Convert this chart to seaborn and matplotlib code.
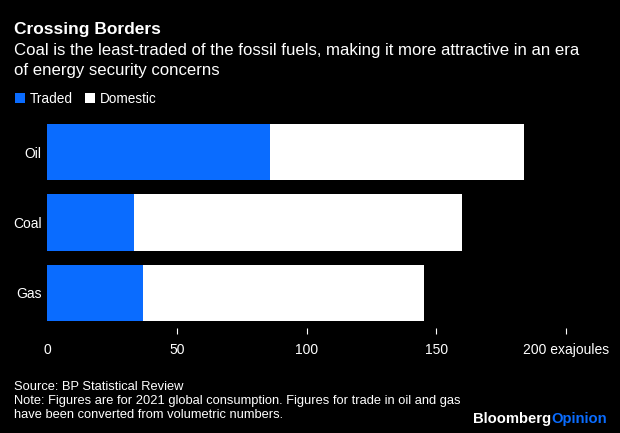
import matplotlib
matplotlib.use("Agg")
import matplotlib.pyplot as plt
from matplotlib.patches import Patch
import seaborn as sns
import pandas as pd

categories = ["Oil", "Coal", "Gas"]
traded = [85.9, 33.6, 36.9]
domestic = [97.9, 126.4, 108.3]
tick_values = [0, 50, 100, 150, 200]
tick_labels = ["0", "50", "100", "150", "200 exajoules"]

BLUE = "#0a6cff"
FONT = ["Liberation Sans", "DejaVu Sans"]

sns.set_theme(style="dark")
plt.rcParams["font.family"] = FONT

df = pd.DataFrame({"fuel": categories, "traded": traded,
                   "total": [t + d for t, d in zip(traded, domestic)]})

fig = plt.figure(figsize=(6.2, 4.33), dpi=100, facecolor="black")
W, H = 620, 433
ax = fig.add_axes([47 / W, 1 - 328 / H, (566 - 47) / W, (328 - 117) / H])
ax.set_facecolor("black")

sns.barplot(data=df, y="fuel", x="total", color="white", orient="h",
            width=0.8, ax=ax, saturation=1, linewidth=0)
sns.barplot(data=df, y="fuel", x="traded", color=BLUE, orient="h",
            width=0.8, ax=ax, saturation=1, linewidth=0)

ax.set_xlim(0, 200)
ax.set_ylim(2.5, -0.5)
ax.set_xlabel("")
ax.set_ylabel("")
ax.grid(False)
for s in ax.spines.values():
    s.set_visible(False)
ax.set_xticks(tick_values)
ax.set_xticklabels(tick_labels)
ax.tick_params(axis="x", colors="white", labelcolor="white", length=4.5,
               width=0.8, direction="out", pad=6, labelsize=10,
               bottom=True)
ax.tick_params(axis="y", colors="white", labelcolor="white", length=0,
               pad=4, labelsize=10)
# hide tick at 0
ax.xaxis.get_major_ticks()[0].tick1line.set_visible(False)

fig.text(14 / W, 1 - 34 / H, "Crossing Borders", color="white",
         fontsize=12.5, fontweight="bold", va="baseline", ha="left")
fig.text(14 / W, 1 - 55.5 / H, "Coal is the least-traded of the fossil fuels, making it more attractive in an era",
         color="white", fontsize=12.1, va="baseline", ha="left")
fig.text(14 / W, 1 - 75.5 / H, "of energy security concerns",
         color="white", fontsize=12.1, va="baseline", ha="left")

handles = [Patch(facecolor=BLUE, edgecolor="none", label="Traded"),
           Patch(facecolor="white", edgecolor="none", label="Domestic")]
fig.legend(handles=handles, loc="center left", bbox_to_anchor=(15 / W, 1 - 98.5 / H),
           ncol=2, frameon=False, fontsize=9.8, labelcolor="white",
           handlelength=0.75, handleheight=0.75, handletextpad=0.35,
           columnspacing=0.9, borderaxespad=0, borderpad=0)

fig.text(14 / W, 1 - 390 / H, "Source: BP Statistical Review", color="white",
         fontsize=9.3, va="baseline", ha="left")
fig.text(14 / W, 1 - 404 / H,
         "Note: Figures are for 2021 global consumption. Figures for trade in oil and gas",
         color="white", fontsize=9.3, va="baseline", ha="left")
fig.text(14 / W, 1 - 418 / H, "have been converted from volumetric numbers.",
         color="white", fontsize=9.3, va="baseline", ha="left")

t1 = fig.text(473 / W, 1 - 423 / H, "Bloomberg", color="white", fontsize=10.7,
              fontweight="bold", va="baseline", ha="left")
fig.canvas.draw()
bb = t1.get_window_extent()
fig.text(bb.x1 / W, 1 - 423 / H, "Opinion", color=BLUE, fontsize=10.7,
         fontweight="bold", va="baseline", ha="left")

fig.savefig("out.png", dpi=100, facecolor="black")
